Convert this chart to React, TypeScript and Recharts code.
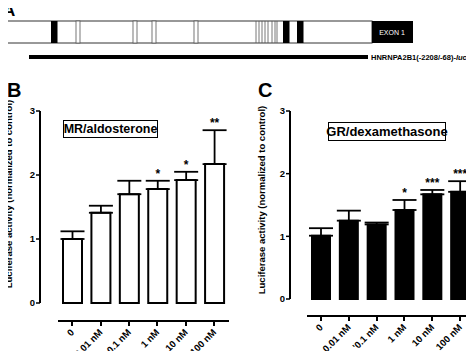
import { BarChart, Bar, XAxis, YAxis, ErrorBar, LabelList } from "recharts";

const FONT = "'Liberation Sans', Arial, sans-serif";

const doses = ["0", "0.01 nM", "0.1 nM", "1 nM", "10 nM", "100 nM"];
const grDoses = ["0", "0.01 nM", "'0.1 nM", "1 nM", "10 nM", "100 nM"];
const mrMean = [1.0, 1.41, 1.7, 1.78, 1.92, 2.17];
const mrErr = [0.12, 0.11, 0.21, 0.13, 0.13, 0.53];
const mrSig = ["", "", "", "*", "*", "**"];
const grMean = [1.01, 1.25, 1.19, 1.42, 1.67, 1.71];
const grErr = [0.12, 0.16, 0.03, 0.16, 0.07, 0.17];
const grSig = ["", "", "", "*", "***", "***"];
const yTicks = [0, 1, 2, 3];
const yLabel = "Luciferase activity (normalized to control)";

// promoter map (panel A): x positions along the construct
const blackBoxes = [51, 283, 297];
const thinPairs = [76, 133, 152, 194];
const thinLines = [256, 259, 262, 265, 268, 272, 275, 277];

const mrData = doses.map((dose, i) => ({ dose, mean: mrMean[i], err: mrErr[i], sig: mrSig[i] }));
const grData = grDoses.map((dose, i) => ({ dose, mean: grMean[i], err: grErr[i], sig: grSig[i] }));

const CHART_TOP = 80;
const CHART_H = 279;
const MARGIN_TOP = 31;

const panelB = { left: 0, width: 240, marginRight: 11.5, outerW: 40, innerW: 18, innerH: 18, labH: 38, barSize: 19, labelX: 12, labelY: 114, letter: "B", letterX: 7 };
const panelC = { left: 240, width: 234, marginRight: 0, outerW: 50, innerW: 17, innerH: 17, labH: 43, barSize: 18, labelX: 25, labelY: 120, letter: "C", letterX: 18 };

function GeneMap() {
  return (
    <svg width={474} height={80} style={{ position: "absolute", left: 0, top: 0 }}>
      <text x={3} y={16} fontSize={17} fontWeight="bold" fontFamily={FONT}>A</text>
      <rect x={0} y={21} width={372} height={22} fill="#fff" stroke="#333" strokeWidth={1} />
      {blackBoxes.map((x) => (
        <rect key={x} x={x} y={21} width={6.5} height={22} fill="#000" />
      ))}
      {thinPairs.map((x) => (
        <rect key={x} x={x} y={21} width={4} height={22} fill="#fff" stroke="#555" strokeWidth={0.8} />
      ))}
      {thinLines.map((x) => (
        <line key={x} x1={x} x2={x} y1={21} y2={43} stroke="#555" strokeWidth={0.8} />
      ))}
      <rect x={372} y={21} width={41} height={22} fill="#000" />
      <text x={392} y={35} fontSize={7} fill="#fff" textAnchor="middle" fontFamily={FONT}>EXON 1</text>
      <rect x={29} y={55} width={339} height={4} fill="#000" />
      <text x={371} y={60} fontSize={7.5} fontWeight="bold" fontFamily={FONT}>
        HNRNPA2B1(-2208/-68)-<tspan fontStyle="italic">luc</tspan>
      </text>
    </svg>
  );
}

function renderDoseTick(props: any) {
  const { x, y, payload } = props;
  return (
    <g transform={`translate(${x},${y})`}>
      <text
        transform="translate(2.5,12) rotate(-45)"
        textAnchor="end"
        fontSize={9.5}
        fontWeight="bold"
        fontFamily={FONT}
        fill="#000"
      >
        {payload.value}
      </text>
    </g>
  );
}

const Stars = ({ x, y, width, height, value, index, data }: any) => {
  const row = data[index];
  if (!row || !row.sig) return null;
  const capY = y - (row.err * height) / value;
  return (
    <text x={x + width / 2} y={capY - 3} textAnchor="middle" fontSize={12} fontWeight="bold" fontFamily={FONT}>
      {row.sig}
    </text>
  );
};

function DosePanel({ p, data, fill }: any) {
  return (
    <BarChart width={p.width} height={CHART_H} data={data} margin={{ top: MARGIN_TOP, right: p.marginRight, bottom: 0, left: 0 }} barSize={p.barSize}>
      <XAxis xAxisId="bars" dataKey="dose" height={p.innerH} tick={false} axisLine={false} tickLine={false} />
      <XAxis
        xAxisId="lab"
        dataKey="dose"
        height={p.labH}
        axisLine={{ stroke: "#000", strokeWidth: 2 }}
        tickLine={false}
        tickSize={0}
        tickMargin={0}
        tick={renderDoseTick}
        interval={0}
      />
      <YAxis yAxisId="bars" domain={[0, 3]} width={p.innerW} tick={false} axisLine={false} tickLine={false} />
      <YAxis
        yAxisId="lab"
        domain={[0, 3]}
        ticks={yTicks}
        width={p.outerW}
        axisLine={{ stroke: "#000", strokeWidth: 2 }}
        tickLine={{ stroke: "#000", strokeWidth: 1.5 }}
        tickSize={4}
        tickMargin={1}
        tick={{ fontSize: 9.5, fontWeight: "bold", fill: "#000", fontFamily: FONT }}
        label={() => (
          <g>
            <text x={p.letterX} y={17} fontSize={20} fontWeight="bold" fontFamily={FONT}>{p.letter}</text>
            <text
              x={p.labelX}
              y={p.labelY}
              transform={`rotate(-90 ${p.labelX} ${p.labelY})`}
              textAnchor="middle"
              fontSize={9.5}
              fontWeight="bold"
              fontFamily={FONT}
            >
              {yLabel}
            </text>
          </g>
        )}
      />
      {/* invisible series so the detached label axes get their scales */}
      <Bar xAxisId="lab" yAxisId="lab" dataKey="mean" fill="none" isAnimationActive={false} />
      <Bar xAxisId="bars" yAxisId="bars" dataKey="mean" fill={fill} stroke="#000" strokeWidth={2} isAnimationActive={false}>
        <ErrorBar dataKey={(d: any) => [0, d.err]} width={12} stroke="#000" strokeWidth={1.8} />
        <LabelList dataKey="mean" content={(props: any) => <Stars {...props} data={data} />} />
      </Bar>
    </BarChart>
  );
}

// detached category axis line and its tick marks as plain boxes, from the same panel layout
function DetachedAxis({ p, count }: any) {
  const x0 = p.left + p.outerW + p.innerW;
  const x1 = p.left + p.width - p.marginRight;
  const band = (x1 - x0) / count;
  const y = CHART_TOP + CHART_H - p.labH;
  return (
    <>
      <div style={{ position: "absolute", left: x0, top: y - 1, width: x1 - x0, height: 2, background: "#000" }} />
      {Array.from({ length: count }, (_, i) => (
        <div key={i} style={{ position: "absolute", left: x0 + band * (i + 0.5) - 1, top: y, width: 2, height: 5, background: "#000" }} />
      ))}
    </>
  );
}

const boxStyle = {
  position: "absolute" as const,
  border: "1.5px solid #000",
  fontFamily: FONT,
  fontWeight: "bold" as const,
  background: "#fff",
  display: "flex",
  alignItems: "center",
  justifyContent: "center",
  boxSizing: "border-box" as const,
};

export default function App() {
  return (
    <div style={{ position: "relative", margin: -8, width: 474, height: 359, background: "#fff", overflow: "hidden" }}>
      <GeneMap />
      <div style={{ position: "absolute", left: panelB.left, top: CHART_TOP }}>
        <DosePanel p={panelB} data={mrData} fill="#fff" />
      </div>
      <div style={{ position: "absolute", left: panelC.left, top: CHART_TOP }}>
        <DosePanel p={panelC} data={grData} fill="#000" />
      </div>
      <DetachedAxis p={panelB} count={mrData.length} />
      <DetachedAxis p={panelC} count={grData.length} />
      <div style={{ ...boxStyle, left: 63, top: 120, width: 95, height: 18, fontSize: 12.5 }}>MR/aldosterone</div>
      <div style={{ ...boxStyle, left: 328, top: 122, width: 118, height: 19, fontSize: 13 }}>GR/dexamethasone</div>
    </div>
  );
}
